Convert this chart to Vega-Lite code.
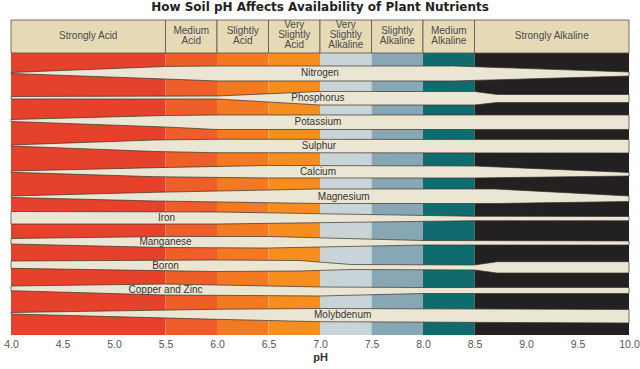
{
  "$schema": "https://vega.github.io/schema/vega-lite/v6.json",
  "autosize": {"type": "none"},
  "width": 618,
  "height": 315,
  "padding": {"left": 11, "top": 20, "right": 11, "bottom": 34},
  "background": "#ffffff",
  "title": {"text": "How Soil pH Affects Availability of Plant Nutrients", "font": "DejaVu Sans", "fontSize": 12, "fontWeight": "bold", "color": "#222222", "anchor": "middle", "offset": 6},
  "config": {"view": {"stroke": null}},
  "datasets": {
    "zones": [
      {"zone": "Strongly Acid", "from": 4.0, "to": 5.5, "label": "Strongly Acid", "mid": 4.75, "lines": 1},
      {"zone": "Medium Acid", "from": 5.5, "to": 6.0, "label": "Medium\nAcid", "mid": 5.75, "lines": 2},
      {"zone": "Slightly Acid", "from": 6.0, "to": 6.5, "label": "Slightly\nAcid", "mid": 6.25, "lines": 2},
      {"zone": "Very Slightly Acid", "from": 6.5, "to": 7.0, "label": "Very\nSlightly\nAcid", "mid": 6.75, "lines": 3},
      {"zone": "Very Slightly Alkaline", "from": 7.0, "to": 7.5, "label": "Very\nSlightly\nAlkaline", "mid": 7.25, "lines": 3},
      {"zone": "Slightly Alkaline", "from": 7.5, "to": 8.0, "label": "Slightly\nAlkaline", "mid": 7.75, "lines": 2},
      {"zone": "Medium Alkaline", "from": 8.0, "to": 8.5, "label": "Medium\nAlkaline", "mid": 8.25, "lines": 2},
      {"zone": "Strongly Alkaline", "from": 8.5, "to": 10.0, "label": "Strongly Alkaline", "mid": 9.25, "lines": 1}
    ],
    "bands": [
      {"nutrient": "Nitrogen", "ph": 4.0, "top": 0.830, "bottom": 0.872},
      {"nutrient": "Nitrogen", "ph": 5.5, "top": 0.574, "bottom": 1.106},
      {"nutrient": "Nitrogen", "ph": 6.0, "top": 0.553, "bottom": 1.191},
      {"nutrient": "Nitrogen", "ph": 8.3, "top": 0.553, "bottom": 1.191},
      {"nutrient": "Nitrogen", "ph": 10.0, "top": 0.809, "bottom": 0.979},
      {"nutrient": "Phosphorus", "ph": 4.0, "top": 1.851, "bottom": 1.957},
      {"nutrient": "Phosphorus", "ph": 6.0, "top": 1.830, "bottom": 1.957},
      {"nutrient": "Phosphorus", "ph": 7.0, "top": 1.638, "bottom": 2.213},
      {"nutrient": "Phosphorus", "ph": 8.5, "top": 1.638, "bottom": 2.213},
      {"nutrient": "Phosphorus", "ph": 8.72, "top": 1.766, "bottom": 2.106},
      {"nutrient": "Phosphorus", "ph": 10.0, "top": 1.766, "bottom": 2.106},
      {"nutrient": "Potassium", "ph": 4.0, "top": 2.830, "bottom": 2.915},
      {"nutrient": "Potassium", "ph": 5.5, "top": 2.660, "bottom": 3.149},
      {"nutrient": "Potassium", "ph": 6.0, "top": 2.638, "bottom": 3.255},
      {"nutrient": "Potassium", "ph": 10.0, "top": 2.638, "bottom": 3.255},
      {"nutrient": "Sulphur", "ph": 4.0, "top": 3.915, "bottom": 3.957},
      {"nutrient": "Sulphur", "ph": 5.4, "top": 3.702, "bottom": 4.191},
      {"nutrient": "Sulphur", "ph": 6.0, "top": 3.672, "bottom": 4.243},
      {"nutrient": "Sulphur", "ph": 10.0, "top": 3.681, "bottom": 4.255},
      {"nutrient": "Calcium", "ph": 4.0, "top": 5.021, "bottom": 5.077},
      {"nutrient": "Calcium", "ph": 5.4, "top": 4.881, "bottom": 5.264},
      {"nutrient": "Calcium", "ph": 6.5, "top": 4.787, "bottom": 5.319},
      {"nutrient": "Calcium", "ph": 8.5, "top": 4.809, "bottom": 5.319},
      {"nutrient": "Calcium", "ph": 10.0, "top": 5.085, "bottom": 5.234},
      {"nutrient": "Magnesium", "ph": 4.0, "top": 6.085, "bottom": 6.149},
      {"nutrient": "Magnesium", "ph": 5.4, "top": 5.928, "bottom": 6.298},
      {"nutrient": "Magnesium", "ph": 7.0, "top": 5.787, "bottom": 6.404},
      {"nutrient": "Magnesium", "ph": 8.7, "top": 5.787, "bottom": 6.404},
      {"nutrient": "Magnesium", "ph": 10.0, "top": 6.085, "bottom": 6.319},
      {"nutrient": "Iron", "ph": 4.0, "top": 6.745, "bottom": 7.277},
      {"nutrient": "Iron", "ph": 6.0, "top": 6.766, "bottom": 7.277},
      {"nutrient": "Iron", "ph": 8.5, "top": 6.949, "bottom": 7.136},
      {"nutrient": "Iron", "ph": 10.0, "top": 6.957, "bottom": 7.136},
      {"nutrient": "Manganese", "ph": 4.0, "top": 7.894, "bottom": 8.128},
      {"nutrient": "Manganese", "ph": 5.5, "top": 7.809, "bottom": 8.277},
      {"nutrient": "Manganese", "ph": 6.5, "top": 7.809, "bottom": 8.298},
      {"nutrient": "Manganese", "ph": 8.0, "top": 7.979, "bottom": 8.170},
      {"nutrient": "Manganese", "ph": 10.0, "top": 8.000, "bottom": 8.170},
      {"nutrient": "Boron", "ph": 4.0, "top": 8.851, "bottom": 9.162},
      {"nutrient": "Boron", "ph": 6.0, "top": 8.809, "bottom": 9.298},
      {"nutrient": "Boron", "ph": 6.8, "top": 8.830, "bottom": 9.277},
      {"nutrient": "Boron", "ph": 7.3, "top": 9.000, "bottom": 9.213},
      {"nutrient": "Boron", "ph": 8.5, "top": 9.021, "bottom": 9.234},
      {"nutrient": "Boron", "ph": 8.72, "top": 8.881, "bottom": 9.362},
      {"nutrient": "Boron", "ph": 10.0, "top": 8.881, "bottom": 9.362},
      {"nutrient": "Copper and Zinc", "ph": 4.0, "top": 9.915, "bottom": 10.115},
      {"nutrient": "Copper and Zinc", "ph": 5.5, "top": 9.830, "bottom": 10.298},
      {"nutrient": "Copper and Zinc", "ph": 7.0, "top": 9.957, "bottom": 10.340},
      {"nutrient": "Copper and Zinc", "ph": 8.0, "top": 9.979, "bottom": 10.234},
      {"nutrient": "Copper and Zinc", "ph": 10.0, "top": 9.979, "bottom": 10.234},
      {"nutrient": "Molybdenum", "ph": 4.0, "top": 11.043, "bottom": 11.106},
      {"nutrient": "Molybdenum", "ph": 6.0, "top": 10.906, "bottom": 11.332},
      {"nutrient": "Molybdenum", "ph": 7.0, "top": 10.872, "bottom": 11.434},
      {"nutrient": "Molybdenum", "ph": 10.0, "top": 10.915, "bottom": 11.489}
    ],
    "labels": [
      {"nutrient": "Nitrogen", "ph": 7.0, "pos": 0.872},
      {"nutrient": "Phosphorus", "ph": 6.98, "pos": 1.928},
      {"nutrient": "Potassium", "ph": 6.98, "pos": 2.936},
      {"nutrient": "Sulphur", "ph": 6.99, "pos": 3.970},
      {"nutrient": "Calcium", "ph": 6.98, "pos": 5.055},
      {"nutrient": "Magnesium", "ph": 7.23, "pos": 6.119},
      {"nutrient": "Iron", "ph": 5.51, "pos": 7.013},
      {"nutrient": "Manganese", "ph": 5.5, "pos": 8.043},
      {"nutrient": "Boron", "ph": 5.5, "pos": 9.064},
      {"nutrient": "Copper and Zinc", "ph": 5.5, "pos": 10.085},
      {"nutrient": "Molybdenum", "ph": 7.22, "pos": 11.162}
    ]
  },
  "layer": [
    {
      "data": {"name": "zones"},
      "mark": {"type": "rect"},
      "encoding": {
        "x": {"field": "from", "type": "quantitative", "scale": {"domain": [4, 10], "nice": false, "zero": false},
              "axis": {"values": [4, 4.5, 5, 5.5, 6, 6.5, 7, 7.5, 8, 8.5, 9, 9.5, 10], "format": ".1f", "tickSize": 0, "domain": false, "grid": false, "labelPadding": 4, "labelFont": "Liberation Sans", "labelFontSize": 10.5, "labelColor": "#555555", "title": "pH", "titleFont": "Liberation Sans", "titleFontSize": 11, "titleFontWeight": "bold", "titleColor": "#333333", "titlePadding": 2, "labelFlush": false}},
        "x2": {"field": "to"},
        "y": {"datum": 0, "type": "quantitative", "scale": {"domain": [-1.404, 12], "nice": false, "zero": false, "reverse": true}, "axis": null},
        "y2": {"datum": 12},
        "color": {"field": "zone", "type": "nominal", "legend": null,
                  "scale": {"domain": ["Strongly Acid", "Medium Acid", "Slightly Acid", "Very Slightly Acid", "Very Slightly Alkaline", "Slightly Alkaline", "Medium Alkaline", "Strongly Alkaline"],
                            "range": ["#e6412b", "#ee5e28", "#f37a22", "#f58e1e", "#c9d4d8", "#87a7b5", "#0f6b6d", "#222021"]}}
      }
    },
    {
      "data": {"name": "zones"},
      "mark": {"type": "rect", "fill": "#e6d9b6", "stroke": "#5a5048", "strokeWidth": 0.8},
      "encoding": {
        "x": {"field": "from", "type": "quantitative"},
        "x2": {"field": "to"},
        "y": {"datum": -1.404, "type": "quantitative"},
        "y2": {"datum": 0}
      }
    },
    {
      "data": {"name": "zones"},
      "transform": [{"filter": "datum.lines == 1"}],
      "mark": {"type": "text", "font": "Liberation Sans", "fontSize": 10, "color": "#4a4a4a", "lineBreak": "\n", "lineHeight": 10, "baseline": "middle", "align": "center"},
      "encoding": {
        "x": {"field": "mid", "type": "quantitative"},
        "y": {"datum": -0.702, "type": "quantitative"},
        "text": {"field": "label"}
      }
    },
    {
      "data": {"name": "zones"},
      "transform": [{"filter": "datum.lines == 2"}],
      "mark": {"type": "text", "font": "Liberation Sans", "fontSize": 10, "color": "#4a4a4a", "lineBreak": "\n", "lineHeight": 10, "baseline": "middle", "align": "center"},
      "encoding": {
        "x": {"field": "mid", "type": "quantitative"},
        "y": {"datum": -0.915, "type": "quantitative"},
        "text": {"field": "label"}
      }
    },
    {
      "data": {"name": "zones"},
      "transform": [{"filter": "datum.lines == 3"}],
      "mark": {"type": "text", "font": "Liberation Sans", "fontSize": 10, "color": "#4a4a4a", "lineBreak": "\n", "lineHeight": 10, "baseline": "middle", "align": "center"},
      "encoding": {
        "x": {"field": "mid", "type": "quantitative"},
        "y": {"datum": -1.17, "type": "quantitative"},
        "text": {"field": "label"}
      }
    },
    {
      "data": {"name": "bands"},
      "mark": {"type": "area", "orient": "vertical", "fill": "#ebe6d3", "fillOpacity": 1, "stroke": "#3d2f28", "strokeWidth": 0.7},
      "encoding": {
        "x": {"field": "ph", "type": "quantitative"},
        "y": {"field": "top", "type": "quantitative", "stack": null},
        "y2": {"field": "bottom"},
        "detail": {"field": "nutrient"}
      }
    },
    {
      "data": {"name": "labels"},
      "mark": {"type": "text", "font": "Liberation Sans", "fontSize": 10, "color": "#333333", "baseline": "middle", "align": "center"},
      "encoding": {
        "x": {"field": "ph", "type": "quantitative"},
        "y": {"field": "pos", "type": "quantitative"},
        "text": {"field": "nutrient"}
      }
    }
  ]
}
